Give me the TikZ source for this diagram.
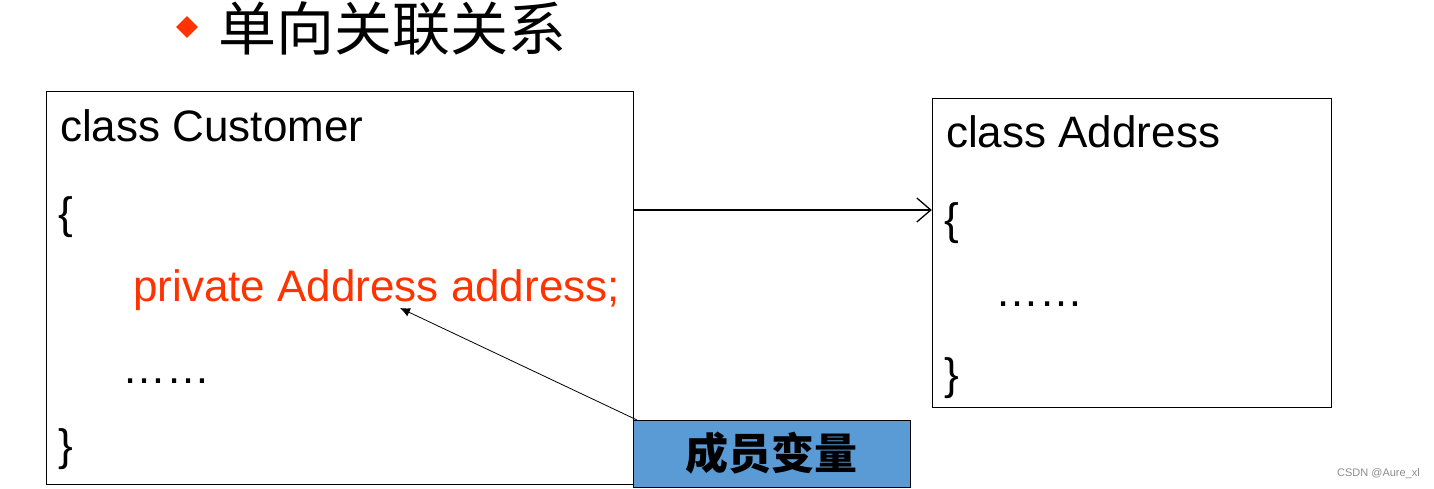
\documentclass[tikz,border=0pt]{standalone}
\usepackage{fontspec}
\setmainfont{Liberation Sans}
\newfontfamily\cjk{Noto Sans CJK SC}
\usetikzlibrary{arrows.meta,shapes.geometric}
\definecolor{hired}{HTML}{FF3300}
\definecolor{boxblue}{HTML}{5B9BD5}
\tikzset{
  codebox/.style={draw=black, line width=1pt, fill=white},
  code/.style={anchor=base west, inner sep=0pt, font=\fontsize{44}{52}\selectfont},
  redcode/.style={code, text=hired},
}
\begin{document}
\begin{tikzpicture}[x=1pt,y=-1pt]
\useasboundingbox (0,0) rectangle (1434,489);
% title
\node[diamond, fill=hired, minimum width=22pt, minimum height=22pt, inner sep=0pt] (bullet) at (187,27) {};
\node[anchor=west, inner sep=0pt, font=\cjk\fontsize{58}{66}\selectfont] (title) at (218,29) {单向关联关系};
% Customer box
\draw[codebox] (46,92) rectangle (633,484);
\node[draw=none, minimum width=587pt, minimum height=392pt, inner sep=0pt] (cust) at (339.5,288) {};
\node[code] (c1) at (60,142) {class Customer};
\node[code] (c2) at (58,228) {\{};
\node[redcode] (c3) at (133,301) {private Address address;};
\node[code] (c4) at (122,383) {……};
\node[code] (c5) at (58,460) {\}};
% Address box
\draw[codebox] (932,99) rectangle (1331,407);
\node[draw=none, minimum width=399pt, minimum height=308pt, inner sep=0pt] (addr) at (1131.5,253) {};
\node[code] (a1) at (946,148) {class Address};
\node[code] (a2) at (944,234) {\{};
\node[code] (a3) at (995,306) {……};
\node[code] (a4) at (944,389) {\}};
% association arrow
\coordinate (ay) at (0,210);
\draw[line width=1.3pt, -{Straight Barb[length=14pt,width=24pt,line width=1.3pt]}] (cust.east |- ay) -- (addr.west |- ay);
% member label
\node[draw=black, line width=1pt, fill=boxblue, minimum width=277pt, minimum height=67pt, inner sep=0pt,
      font=\cjk\bfseries\fontsize{43}{48}\selectfont] (member) at (771.5,453.5) {成员变量};
\coordinate (tgt) at (400,308);
\coordinate (src) at (637,420);
\draw[line width=0.8pt, -{Latex[length=10pt,width=9pt]}] (src) -- (tgt);
% watermark
\node[anchor=base east, inner sep=0pt, text=black!45, font=\fontsize{11}{13}\selectfont] (wm) at (1420,476) {CSDN @Aure\_xl};
\end{tikzpicture}
\end{document}
